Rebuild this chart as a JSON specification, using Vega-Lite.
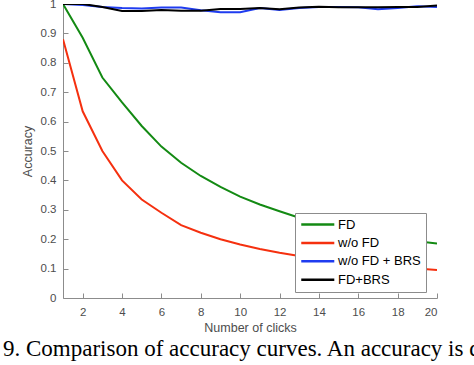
{
  "$schema": "https://vega.github.io/schema/vega-lite/v6.json",
  "width": 374,
  "height": 294,
  "autosize": "none",
  "padding": {"left": 63, "top": 4, "right": 37, "bottom": 67},
  "background": "white",
  "config": {"view": {"stroke": null}, "font": "Liberation Sans"},
  "title": {
    "text": "9. Comparison of accuracy curves. An accuracy is d",
    "orient": "bottom",
    "anchor": "start",
    "frame": "group",
    "dx": -60,
    "offset": 4,
    "font": "Liberation Serif",
    "fontSize": 23,
    "fontWeight": "normal",
    "color": "black"
  },
  "data": {
    "values": [
      {"clicks": 1, "acc": 1.0, "method": "FD"},
      {"clicks": 2, "acc": 0.885, "method": "FD"},
      {"clicks": 3, "acc": 0.75, "method": "FD"},
      {"clicks": 4, "acc": 0.665, "method": "FD"},
      {"clicks": 5, "acc": 0.585, "method": "FD"},
      {"clicks": 6, "acc": 0.515, "method": "FD"},
      {"clicks": 7, "acc": 0.46, "method": "FD"},
      {"clicks": 8, "acc": 0.415, "method": "FD"},
      {"clicks": 9, "acc": 0.378, "method": "FD"},
      {"clicks": 10, "acc": 0.345, "method": "FD"},
      {"clicks": 11, "acc": 0.318, "method": "FD"},
      {"clicks": 12, "acc": 0.295, "method": "FD"},
      {"clicks": 13, "acc": 0.273, "method": "FD"},
      {"clicks": 14, "acc": 0.255, "method": "FD"},
      {"clicks": 15, "acc": 0.239, "method": "FD"},
      {"clicks": 16, "acc": 0.225, "method": "FD"},
      {"clicks": 17, "acc": 0.213, "method": "FD"},
      {"clicks": 18, "acc": 0.202, "method": "FD"},
      {"clicks": 19, "acc": 0.193, "method": "FD"},
      {"clicks": 20, "acc": 0.185, "method": "FD"},
      {"clicks": 1, "acc": 0.88, "method": "w/o FD"},
      {"clicks": 2, "acc": 0.635, "method": "w/o FD"},
      {"clicks": 3, "acc": 0.5, "method": "w/o FD"},
      {"clicks": 4, "acc": 0.4, "method": "w/o FD"},
      {"clicks": 5, "acc": 0.335, "method": "w/o FD"},
      {"clicks": 6, "acc": 0.29, "method": "w/o FD"},
      {"clicks": 7, "acc": 0.248, "method": "w/o FD"},
      {"clicks": 8, "acc": 0.222, "method": "w/o FD"},
      {"clicks": 9, "acc": 0.2, "method": "w/o FD"},
      {"clicks": 10, "acc": 0.182, "method": "w/o FD"},
      {"clicks": 11, "acc": 0.167, "method": "w/o FD"},
      {"clicks": 12, "acc": 0.154, "method": "w/o FD"},
      {"clicks": 13, "acc": 0.143, "method": "w/o FD"},
      {"clicks": 14, "acc": 0.134, "method": "w/o FD"},
      {"clicks": 15, "acc": 0.126, "method": "w/o FD"},
      {"clicks": 16, "acc": 0.119, "method": "w/o FD"},
      {"clicks": 17, "acc": 0.112, "method": "w/o FD"},
      {"clicks": 18, "acc": 0.106, "method": "w/o FD"},
      {"clicks": 19, "acc": 0.1, "method": "w/o FD"},
      {"clicks": 20, "acc": 0.095, "method": "w/o FD"},
      {"clicks": 1, "acc": 1.0, "method": "w/o FD + BRS"},
      {"clicks": 2, "acc": 0.997, "method": "w/o FD + BRS"},
      {"clicks": 3, "acc": 0.99, "method": "w/o FD + BRS"},
      {"clicks": 4, "acc": 0.986, "method": "w/o FD + BRS"},
      {"clicks": 5, "acc": 0.985, "method": "w/o FD + BRS"},
      {"clicks": 6, "acc": 0.988, "method": "w/o FD + BRS"},
      {"clicks": 7, "acc": 0.988, "method": "w/o FD + BRS"},
      {"clicks": 8, "acc": 0.979, "method": "w/o FD + BRS"},
      {"clicks": 9, "acc": 0.972, "method": "w/o FD + BRS"},
      {"clicks": 10, "acc": 0.972, "method": "w/o FD + BRS"},
      {"clicks": 11, "acc": 0.986, "method": "w/o FD + BRS"},
      {"clicks": 12, "acc": 0.98, "method": "w/o FD + BRS"},
      {"clicks": 13, "acc": 0.986, "method": "w/o FD + BRS"},
      {"clicks": 14, "acc": 0.99, "method": "w/o FD + BRS"},
      {"clicks": 15, "acc": 0.99, "method": "w/o FD + BRS"},
      {"clicks": 16, "acc": 0.989, "method": "w/o FD + BRS"},
      {"clicks": 17, "acc": 0.982, "method": "w/o FD + BRS"},
      {"clicks": 18, "acc": 0.986, "method": "w/o FD + BRS"},
      {"clicks": 19, "acc": 0.992, "method": "w/o FD + BRS"},
      {"clicks": 20, "acc": 0.99, "method": "w/o FD + BRS"},
      {"clicks": 1, "acc": 1.0, "method": "FD+BRS"},
      {"clicks": 2, "acc": 1.0, "method": "FD+BRS"},
      {"clicks": 3, "acc": 0.99, "method": "FD+BRS"},
      {"clicks": 4, "acc": 0.976, "method": "FD+BRS"},
      {"clicks": 5, "acc": 0.976, "method": "FD+BRS"},
      {"clicks": 6, "acc": 0.98, "method": "FD+BRS"},
      {"clicks": 7, "acc": 0.977, "method": "FD+BRS"},
      {"clicks": 8, "acc": 0.977, "method": "FD+BRS"},
      {"clicks": 9, "acc": 0.983, "method": "FD+BRS"},
      {"clicks": 10, "acc": 0.983, "method": "FD+BRS"},
      {"clicks": 11, "acc": 0.986, "method": "FD+BRS"},
      {"clicks": 12, "acc": 0.982, "method": "FD+BRS"},
      {"clicks": 13, "acc": 0.988, "method": "FD+BRS"},
      {"clicks": 14, "acc": 0.991, "method": "FD+BRS"},
      {"clicks": 15, "acc": 0.989, "method": "FD+BRS"},
      {"clicks": 16, "acc": 0.989, "method": "FD+BRS"},
      {"clicks": 17, "acc": 0.989, "method": "FD+BRS"},
      {"clicks": 18, "acc": 0.99, "method": "FD+BRS"},
      {"clicks": 19, "acc": 0.99, "method": "FD+BRS"},
      {"clicks": 20, "acc": 0.995, "method": "FD+BRS"}
    ]
  },
  "mark": {"type": "line", "strokeWidth": 2, "clip": true},
  "encoding": {
    "x": {
      "field": "clicks",
      "type": "quantitative",
      "scale": {"domain": [1, 20], "nice": false, "zero": false},
      "axis": {
        "title": "Number of clicks",
        "values": [2, 4, 6, 8, 10, 12, 14, 16, 18, 20],
        "grid": false,
        "domainColor": "#8c8c8c",
        "tickColor": "#8c8c8c",
        "tickSize": -5,
        "labelPadding": 13,
        "labelFontSize": 11.5,
        "labelColor": "#4d4d4d",
        "titleFontSize": 12.5,
        "titleFontWeight": "normal",
        "titleColor": "#4d4d4d",
        "titlePadding": 4
      }
    },
    "y": {
      "field": "acc",
      "type": "quantitative",
      "scale": {"domain": [0, 1], "nice": false},
      "axis": {
        "title": "Accuracy",
        "values": [0, 0.1, 0.2, 0.3, 0.4, 0.5, 0.6, 0.7, 0.8, 0.9, 1],
        "format": ".1~f",
        "grid": false,
        "domainColor": "#8c8c8c",
        "tickColor": "#8c8c8c",
        "tickSize": -5,
        "labelPadding": 12,
        "labelFontSize": 11.5,
        "labelColor": "#4d4d4d",
        "titleFontSize": 12.5,
        "titleFontWeight": "normal",
        "titleColor": "#4d4d4d",
        "titlePadding": 6
      }
    },
    "color": {
      "field": "method",
      "type": "nominal",
      "sort": ["FD", "w/o FD", "w/o FD + BRS", "FD+BRS"],
      "scale": {
        "domain": ["FD", "w/o FD", "w/o FD + BRS", "FD+BRS"],
        "range": ["#138a13", "#f5300f", "#1f3cf0", "#000000"]
      },
      "legend": {
        "title": null,
        "orient": "none",
        "legendX": 232,
        "legendY": 209,
        "fillColor": "white",
        "strokeColor": "#8c8c8c",
        "padding": 5,
        "symbolType": "M-1,0H5.3",
        "symbolSize": 110,
        "symbolStrokeWidth": 2.5,
        "labelFontSize": 13,
        "labelColor": "black",
        "labelOffset": 25,
        "rowPadding": 4.4
      }
    }
  }
}
